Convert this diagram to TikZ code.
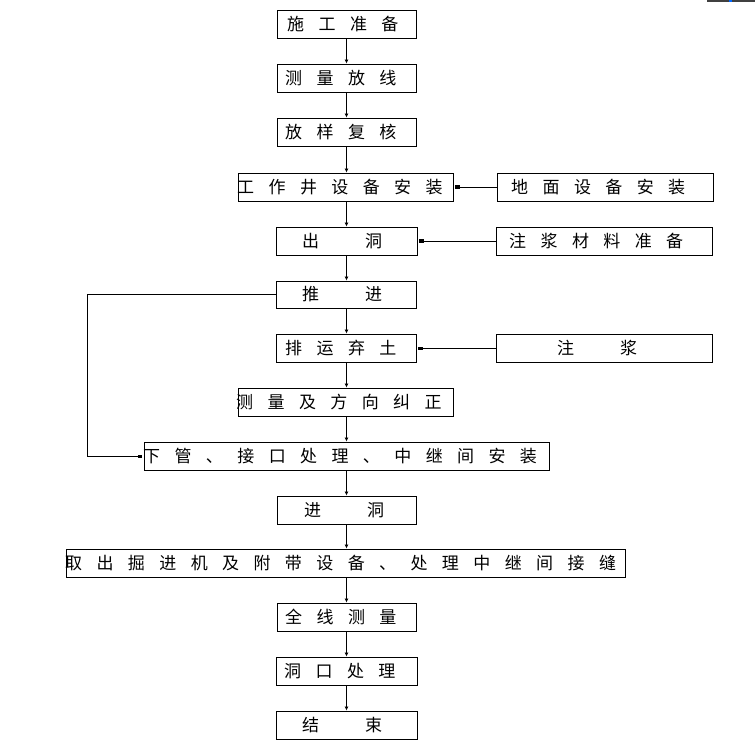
\documentclass[tikz,border=0pt]{standalone}
\usepackage{fontspec}
\newfontfamily\cjk{Noto Sans CJK SC}
\usetikzlibrary{arrows.meta}
\newcommand\cg{\hspace{14.4pt}}
\newcommand\cgap{\hspace{45.8pt}}
\begin{document}
\begin{tikzpicture}[x=1pt,y=-1pt,
  box/.style={draw,line width=0.9pt,inner sep=0pt,rectangle},
  lbl/.style={anchor=west,inner sep=0pt,font=\cjk\fontsize{17pt}{17pt}\selectfont},
  arr/.style={-{Latex[length=4pt,width=4pt]},line width=0.8pt},
  sarr/.style={-{Rectangle[length=4pt,width=3pt]},line width=0.8pt}]
\useasboundingbox (0,0) rectangle (755,754);
\fill[black!75] (707,0) rectangle (755,2.5);
\fill[blue!60!cyan] (729,0) rectangle (732,2.5);
% boxes
\node[box,minimum width=139pt,minimum height=28pt] (a) at (346.5,24) {};
\node[box,minimum width=139pt,minimum height=28pt] (b) at (346.5,78) {};
\node[box,minimum width=139pt,minimum height=28pt] (c) at (346.5,132) {};
\node[box,minimum width=215pt,minimum height=28pt] (d) at (345.5,187) {};
\node[box,minimum width=216pt,minimum height=28pt] (e) at (605,187) {};
\node[box,minimum width=141pt,minimum height=28pt] (f) at (346.5,241) {};
\node[box,minimum width=216pt,minimum height=28pt] (g) at (604,241) {};
\node[box,minimum width=140pt,minimum height=27pt] (h) at (346,294.5) {};
\node[box,minimum width=140pt,minimum height=28pt] (i) at (346,348) {};
\node[box,minimum width=216pt,minimum height=28pt] (j) at (604,348) {};
\node[box,minimum width=215pt,minimum height=28pt] (k) at (345.5,402) {};
\node[box,minimum width=405pt,minimum height=28pt] (l) at (346.5,456) {};
\node[box,minimum width=139pt,minimum height=28pt] (m) at (346.5,510) {};
\node[box,minimum width=559pt,minimum height=28pt] (n) at (345.5,563) {};
\node[box,minimum width=139pt,minimum height=28pt] (o) at (346.5,617) {};
\node[box,minimum width=141pt,minimum height=28pt] (p) at (346.5,671) {};
\node[box,minimum width=141pt,minimum height=28pt] (q) at (346.5,725) {};
% labels
\node[lbl] (ta) at (287,24) {施\cg 工\cg 准\cg 备};
\node[lbl] (tb) at (285,78) {测\cg 量\cg 放\cg 线};
\node[lbl] (tc) at (285,132) {放\cg 样\cg 复\cg 核};
\node[lbl] (td) at (237,187) {工\cg 作\cg 井\cg 设\cg 备\cg 安\cg 装};
\node[lbl] (te) at (511,187) {地\cg 面\cg 设\cg 备\cg 安\cg 装};
\node[lbl] (tf) at (302,241) {出\cgap 洞};
\node[lbl] (tg) at (509,241) {注\cg 浆\cg 材\cg 料\cg 准\cg 备};
\node[lbl] (th) at (302,294.5) {推\cgap 进};
\node[lbl] (ti) at (285,348) {排\cg 运\cg 弃\cg 土};
\node[lbl] (tj) at (557,348) {注\cgap 浆};
\node[lbl] (tk) at (236,402) {测\cg 量\cg 及\cg 方\cg 向\cg 纠\cg 正};
\node[lbl] (tl) at (143,456) {下\cg 管\cg 、\cg 接\cg 口\cg 处\cg 理\cg 、\cg 中\cg 继\cg 间\cg 安\cg 装};
\node[lbl] (tm) at (304,510) {进\cgap 洞};
\node[lbl] (tn) at (65,563) {取\cg 出\cg 掘\cg 进\cg 机\cg 及\cg 附\cg 带\cg 设\cg 备\cg 、\cg 处\cg 理\cg 中\cg 继\cg 间\cg 接\cg 缝};
\node[lbl] (to) at (285,617) {全\cg 线\cg 测\cg 量};
\node[lbl] (tp) at (284,671) {洞\cg 口\cg 处\cg 理};
\node[lbl] (tq) at (302,725) {结\cgap 束};
% vertical arrows
\foreach \u/\v in {a/b,b/c,c/d,d/f,f/h,h/i,i/k,k/l,l/m,m/n,n/o,o/p,p/q}
  \draw[arr] (\u.south -| 346.5,0) -- (\v.north -| 346.5,0);
% side arrows
\draw[sarr,shorten >=2pt] (e.west) -- (d.east);
\draw[sarr,shorten >=2pt] (g.west) -- (f.east);
\draw[sarr,shorten >=2pt] (j.west) -- (i.east);
% loop
\coordinate (lp) at (87,0);
\draw[sarr,shorten >=2pt] (h.west) -- (h.west -| lp) |- (l.west);
\end{tikzpicture}
\end{document}
